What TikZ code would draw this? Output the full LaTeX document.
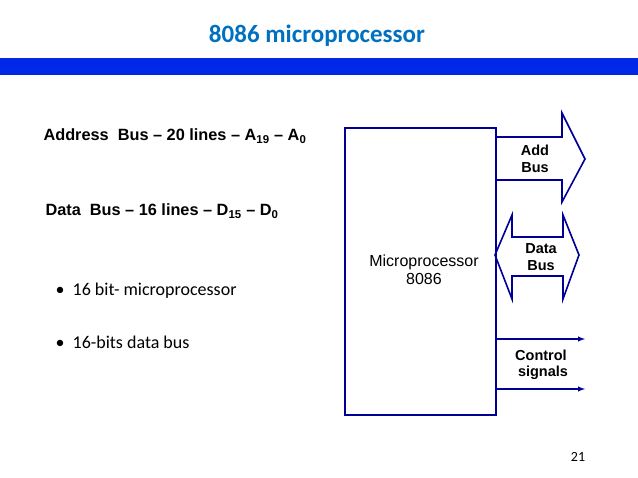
\documentclass[tikz,border=0pt]{standalone}
\usepackage{fontspec}
\setmainfont{Liberation Sans}
\newfontfamily\calib{Carlito}
\usetikzlibrary{positioning}
\definecolor{navy}{RGB}{0,0,150}
\definecolor{titleblue}{RGB}{0,112,192}
\definecolor{band}{RGB}{0,40,230}
\tikzset{
  line/.style={navy, line width=1.6pt},
  lbl/.style={font=\bfseries\fontsize{14.5}{16.5}\selectfont, align=center},
  bullet/.style={font=\calib\fontsize{18}{20}\selectfont, anchor=west}
}
\begin{document}
\begin{tikzpicture}[x=1pt,y=-1pt]
    \useasboundingbox (0,0) rectangle (638,478);
    \fill[band] (0,58) rectangle (638,75);

    \node[font=\calib\bfseries\fontsize{25}{28}\selectfont, text=titleblue] (title) at (317,36) {8086 microprocessor};

    \node[anchor=west, font=\bfseries\fontsize{16.3}{18}\selectfont] (addr) at (40,136) {Address\ \ Bus -- 20 lines -- A$_{\mathbf{19}}$ -- A$_{\mathbf{0}}$};
    \node[anchor=west, font=\bfseries\fontsize{16.3}{18}\selectfont] (data) at (42,211) {Data\ \ Bus -- 16 lines -- D$_{\mathbf{15}}$ -- D$_{\mathbf{0}}$};
    \node[bullet] (b1) at (52,291) {\textbullet\ \ 16 bit- microprocessor};
    \node[bullet] (b2) at (52,342) {\textbullet\ \ 16-bits data bus};

    % processor block
    \node[line, draw, fill=white, minimum width=151pt, minimum height=287pt, anchor=north west] (cpu) at (344,127) {};
    \node[font=\fontsize{16}{18}\selectfont, align=center] (cpulbl) at (424,270) {Microprocessor\\8086};

    % address bus
    \coordinate (a1) at (495,137);
    \draw[line, line join=miter] (a1) -- (562,137) -- (562,113) -- (585,159) -- (562,202) -- (562,180) -- (495,180);
    \node[lbl] (addlbl) at (535,159) {Add\\Bus};

    % data bus
    \coordinate (d0) at (495,255);
    \draw[line, line join=miter] (d0) -- (512,215) -- (512,237) -- (563,237) -- (563,215) -- (579,255)
        -- (563,299) -- (563,276) -- (512,276) -- (512,299) -- cycle;
    \node[lbl] (datalbl) at (541,257) {Data\\Bus};

    % control signals
    \coordinate (c1) at (585,339);
    \coordinate (c2) at (585,389);
    \draw[navy, line width=1.4pt, -latex] (cpu.east |- c1) -- (c1);
    \draw[navy, line width=1.4pt, -latex] (cpu.east |- c2) -- (c2);
    \node[lbl] (ctrllbl) at (541,365) {Control\\\ signals};

    \node[font=\calib\fontsize{14}{16}\selectfont] (page) at (578,457) {21};
\end{tikzpicture}
\end{document}
